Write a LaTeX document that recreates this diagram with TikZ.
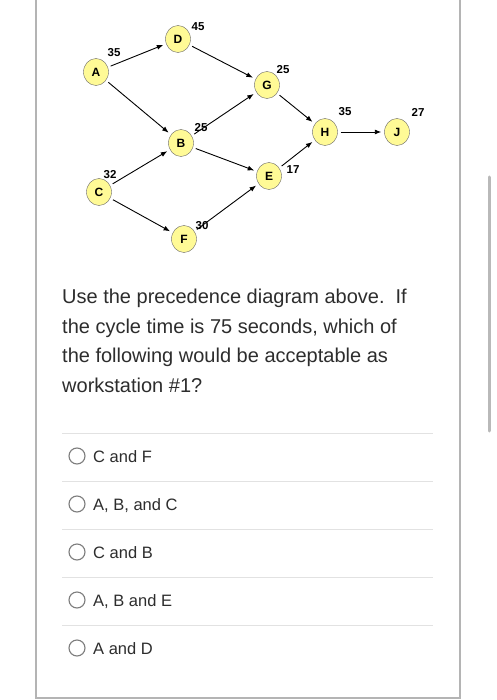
\documentclass[tikz,border=0pt]{standalone}
\usepackage{fontspec}
\setmainfont{Liberation Sans}
\usetikzlibrary{arrows.meta, shapes.geometric}

\definecolor{taskfill}{RGB}{255,250,150}
\definecolor{txtgray}{RGB}{45,45,45}
\definecolor{framegray}{RGB}{180,180,180}
\definecolor{rulegray}{RGB}{226,226,226}
\definecolor{radiogray}{RGB}{125,125,125}

\tikzset{
  task/.style={ellipse, draw=black!60, fill=taskfill, minimum width=25pt, minimum height=27pt,
               inner sep=0pt, font=\fontsize{12}{14}\selectfont\bfseries},
  tlabel/.style={font=\fontsize{11.5}{13}\selectfont\bfseries, inner sep=0pt},
  prec/.style={-{Latex[length=6.5pt,width=5pt]}, line width=0.9pt, shorten >=3pt, shorten <=3pt},
  qline/.style={anchor=base west, inner sep=0pt, text=txtgray, font=\fontsize{20}{24}\selectfont},
  choice/.style={anchor=base west, inner sep=0pt, text=txtgray, font=\fontsize{16.5}{20}\selectfont},
}

\begin{document}
\begin{tikzpicture}[x=1pt, y=-1pt]
  \fill[white] (0,0) rectangle (496,700);
  \useasboundingbox (0,0) rectangle (496,700);

  % card frame and scroll bar
  \draw[framegray, line width=1.6pt] (36,-5) -- (36,698) -- (460,698) -- (460,-5);
  \draw[gray!55, line width=3pt, line cap=round] (489,177) -- (489,431);

  % precedence diagram
  \node[task] (A) at (96,72) {A};
  \node[task] (D) at (178,39) {D};
  \node[task] (G) at (267,85) {G};
  \node[task] (B) at (181,143) {B};
  \node[task] (E) at (269,176) {E};
  \node[task] (C) at (99,192) {C};
  \node[task] (F) at (184,239) {F};
  \node[task] (H) at (325,132) {H};
  \node[task] (J) at (397,132) {J};

  \node[tlabel] (tA) at (114,53) {35};
  \node[tlabel] (tD) at (198,27) {45};
  \node[tlabel] (tG) at (283,70) {25};
  \node[tlabel] (tB) at (201,128) {25};
  \node[tlabel] (tC) at (110,175) {32};
  \node[tlabel] (tF) at (202,226) {30};
  \node[tlabel] (tE) at (293,170) {17};
  \node[tlabel] (tH) at (345,112) {35};
  \node[tlabel] (tJ) at (418,112) {27};

  \draw[prec] (A) -- (D);
  \draw[prec] (A) -- (B);
  \draw[prec] (D) -- (G);
  \draw[prec] (B) -- (G);
  \draw[prec] (B) -- (E);
  \draw[prec] (C) -- (B);
  \draw[prec] (C) -- (F);
  \draw[prec] (F) -- (E);
  \draw[prec] (G) -- (H);
  \draw[prec] (E) -- (H);
  \draw[prec] (H) -- (J);

  % question
  \node[qline] (q1) at (62,303) {Use the precedence diagram above.\ \ If};
  \node[qline] (q2) at (62,333) {the cycle time is 75 seconds, which of};
  \node[qline] (q3) at (62,362) {the following would be acceptable as};
  \node[qline] (q4) at (62,392) {workstation \#1?};

  % answer choices
  \foreach \txt [count=\i] in {C and F, {A, B, and C}, C and B, {A, B and E}, A and D} {
    \draw[rulegray, line width=0.9pt] (62,{433+48*(\i-1)}) -- (433,{433+48*(\i-1)});
    \draw[radiogray, line width=1.1pt] (77,{456+48*(\i-1)}) circle (8);
    \node[choice] (c\i) at (93,{462+48*(\i-1)}) {\txt};
  }
\end{tikzpicture}
\end{document}
